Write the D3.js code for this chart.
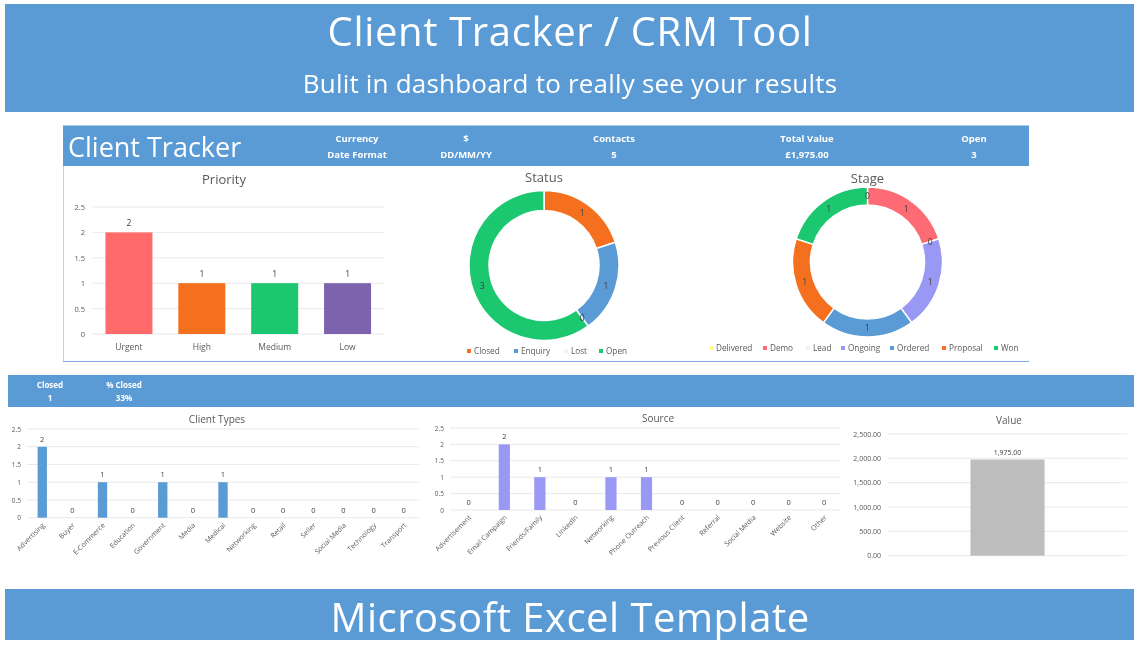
<!DOCTYPE html>
<html><head><meta charset="utf-8">
<script src="https://cdn.jsdelivr.net/npm/d3@7"></script>
<style>
html,body{margin:0;padding:0;background:#fff;overflow:hidden}
svg{display:block;filter:blur(0.35px)}
text{font-family:"Open Sans",sans-serif}
.domain{display:none}
.tick line{display:none}
</style></head><body>
<div id="chart"></div>
<script>
const priorityCats = ["Urgent","High","Medium","Low"];
const priorityVals = [2,1,1,1];
const priorityColors = ["#FF6B6B","#F4701F","#1BC76F","#7D63AD"];
const statusCats = ["Closed","Enquiry","Lost","Open"];
const statusVals = [1,1,0,3];
const statusColors = ["#F4701F","#5B9BD5","#F2F2F2","#1BC76F"];
const stageCats = ["Delivered","Demo","Lead","Ongoing","Ordered","Proposal","Won"];
const stageVals = [0,1,0,1,1,1,1];
const stageColors = ["#FFFF8C","#FF6B75","#F2F2F2","#9999F5","#5B9BD5","#F4701F","#1BC76F"];
const clientCats = ["Advertising","Buyer","E-Commerce","Education","Government","Media","Medical","Networking","Retail","Seller","Social Media","Technology","Transport"];
const clientVals = [2,0,1,0,1,0,1,0,0,0,0,0,0];
const sourceCats = ["Advertisement","Email Campaign","Friends/Family","LinkedIn","Networking","Phone Outreach","Previous Client","Referral","Social Media","Website","Other"];
const sourceVals = [0,2,1,0,1,1,0,0,0,0,0];
const valueCats = ["Value"];
const valueVals = [1975];
const countTicks = [0,0.5,1,1.5,2,2.5];
const valueTicks = [0,500,1000,1500,2000,2500];

const BLUE="#5B9BD5", GREY="#595959", GRID="#E6E6E6";
const svg=d3.select("#chart").append("svg").attr("width",1140).attr("height",647);
function band(x,y,w,h){svg.append("rect").attr("x",x).attr("y",y).attr("width",w).attr("height",h).attr("fill",BLUE);}
function label(x,y,t,size,opt={}){
  return svg.append("text").attr("x",x).attr("y",y).attr("text-anchor",opt.anchor||"middle")
    .attr("font-size",size).attr("font-weight",opt.weight||400).attr("fill",opt.fill||"#fff")
    .attr("letter-spacing",opt.spacing||0).text(t);
}
band(5,4,1129,108);
label(570,46,"Client Tracker / CRM Tool",40,{spacing:0.65});
label(570,93,"Bulit in dashboard to really see your results",26,{spacing:0.2});
band(63,125.5,966,40.5);
label(68,157,"Client Tracker",27,{anchor:"start"});
[[357,"Currency","Date Format"],[466,"$","DD/MM/YY"],[614,"Contacts","5"],[807,"Total Value","£1,975.00"],[974,"Open","3"]]
  .forEach(d=>{label(d[0],142,d[1],9.5,{weight:700});label(d[0],158,d[2],9.5,{weight:700});});
svg.append("line").attr("x1",63).attr("x2",1029).attr("y1",361.5).attr("y2",361.5).attr("stroke","#7FB0DD").attr("stroke-width",1.2);
svg.append("line").attr("x1",63.5).attr("x2",63.5).attr("y1",166).attr("y2",361).attr("stroke","#BCD3EA").attr("stroke-width",1);
band(8,375,1126,32);
label(50,388,"Closed",8,{weight:700});label(50,401,"1",8,{weight:700});
label(124,388,"% Closed",8,{weight:700});label(124,401,"33%",8,{weight:700});
band(5,589,1129,51);
label(570,632,"Microsoft Excel Template",40,{spacing:0.5});

function barChart(o){
  const x=d3.scaleBand().domain(o.cats).range([o.x0,o.x1]).paddingInner(o.pad).paddingOuter(o.pad/2);
  const y=d3.scaleLinear().domain([0,o.ticks[o.ticks.length-1]]).range([o.y0,o.y1]);
  const g=svg.append("g");
  const yAxis=d3.axisLeft(y).tickValues(o.ticks).tickSize(0).tickPadding(0).tickFormat(o.fmt||(d=>String(d)));
  const ax=g.append("g").attr("transform",`translate(${o.axisX},0)`).call(yAxis);
  ax.selectAll("text").attr("font-size",o.tickSize).attr("fill",GREY).attr("font-family",'"Open Sans",sans-serif');
  g.append("g").selectAll("line").data(o.ticks).join("line")
    .attr("x1",o.gridX0||o.x0).attr("x2",o.gridX1||o.x1).attr("y1",d=>y(d)).attr("y2",d=>y(d)).attr("stroke",GRID).attr("stroke-width",0.9);
  g.append("g").selectAll("rect").data(o.cats).join("rect")
    .attr("x",d=>x(d)).attr("width",x.bandwidth())
    .attr("y",(d,i)=>y(o.vals[i])).attr("height",(d,i)=>y(0)-y(o.vals[i]))
    .attr("fill",(d,i)=>o.colors?o.colors[i]:o.color);
  g.append("g").selectAll("text").data(o.cats).join("text")
    .attr("x",d=>x(d)+x.bandwidth()/2).attr("y",(d,i)=>y(o.vals[i])-o.lblGap)
    .attr("text-anchor","middle").attr("font-size",o.lblSize).attr("fill","#404040")
    .text((d,i)=>o.lblFmt?o.lblFmt(o.vals[i]):o.vals[i]);
  if(!o.noCats){
    const xa=g.append("g").attr("transform",`translate(0,${o.y0})`).call(d3.axisBottom(x).tickSize(0).tickPadding(0));
    xa.selectAll("text").attr("font-family",'"Open Sans",sans-serif').attr("font-size",o.catSize).attr("fill",GREY);
    if(o.rotate){
      xa.selectAll("text").attr("text-anchor","end").attr("dy",0).attr("y",0)
        .attr("transform",`translate(3,${o.catGap}) rotate(-45)`);
    } else xa.selectAll("text").attr("y",o.catGap).attr("dy",0);
  }
  label(o.titleX,o.titleY,o.title,o.titleSize,{fill:GREY});
}
barChart({cats:priorityCats,vals:priorityVals,colors:priorityColors,ticks:countTicks,x0:92.5,x1:384,y0:334,y1:207,pad:0.355,axisX:85,tickSize:7.5,lblSize:8.5,lblGap:6,catSize:8.5,catGap:16,title:"Priority",titleX:224,titleY:184,titleSize:13});
barChart({cats:clientCats,vals:clientVals,color:BLUE,ticks:countTicks,x0:27.2,x1:418.8,y0:517.7,y1:429,pad:0.69,axisX:21,tickSize:6.5,lblSize:7.5,lblGap:5,catSize:7,catGap:8,rotate:true,title:"Client Types",titleX:217,titleY:422.5,titleSize:10});
barChart({cats:sourceCats,vals:sourceVals,color:"#9999F5",ticks:countTicks,x0:451,x1:842,gridX0:450,gridX1:840,y0:510,y1:428,pad:0.685,axisX:444,tickSize:6.5,lblSize:7.5,lblGap:5,catSize:7,catGap:8,rotate:true,title:"Source",titleX:658,titleY:422,titleSize:10});
barChart({cats:valueCats,vals:valueVals,color:"#BDBDBD",ticks:valueTicks,x0:888,x1:1127,y0:555.7,y1:434,pad:0.69,axisX:881,tickSize:7,lblSize:7,lblGap:5,noCats:true,fmt:d3.format(",.2f"),lblFmt:d3.format(",.2f"),title:"Value",titleX:1009,titleY:424,titleSize:10});

function donut(o){
  const g=svg.append("g").attr("transform",`translate(${o.cx},${o.cy})`);
  const pie=d3.pie().sort(null).value((d,i)=>o.vals[i]);
  const arcs=pie(o.cats);
  const arc=d3.arc().innerRadius(o.r0).outerRadius(o.r1);
  g.selectAll("path").data(arcs).join("path").attr("d",arc)
    .attr("fill",(d,i)=>o.colors[i]).attr("stroke","#fff").attr("stroke-width",1.5);
  g.selectAll("text").data(arcs).join("text")
    .attr("transform",d=>`translate(${arc.centroid(d)})`).attr("text-anchor","middle").attr("dy","0.35em")
    .attr("font-size",8.5).attr("fill","#404040").text((d,i)=>o.vals[i]);
  label(o.cx,o.titleY,o.title,13,{fill:GREY});
  o.cats.forEach((c,i)=>{
    svg.append("rect").attr("x",o.legendX[i]-2).attr("y",o.legendY-2.5).attr("width",4).attr("height",4).attr("fill",o.colors[i]);
    label(o.legendX[i]+5,o.legendY+2.5,c,8.2,{anchor:"start",fill:GREY});
  });
}
donut({cats:statusCats,vals:statusVals,colors:statusColors,cx:544,cy:265.5,r0:55,r1:75,title:"Status",titleY:182,legendX:[469,516,566,601],legendY:351.5});
donut({cats:stageCats,vals:stageVals,colors:stageColors,cx:867.5,cy:262,r0:57,r1:75,title:"Stage",titleY:183,legendX:[711,765,808,843,892,944,996],legendY:348.5});
</script>
</body></html>
